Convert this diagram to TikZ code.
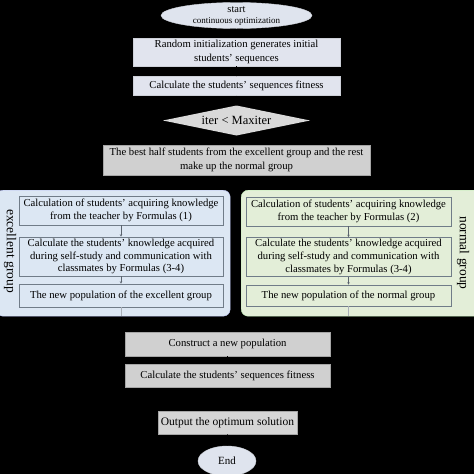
\documentclass[tikz,border=0pt]{standalone}
\usepackage{fontspec}
\setmainfont{Liberation Serif}
\usetikzlibrary{shapes.geometric,arrows.meta}
\definecolor{ellfill}{HTML}{DFE4EE}
\definecolor{bluebox}{HTML}{E1E4EE}
\definecolor{graybox}{HTML}{D0D0D0}
\definecolor{diafill}{HTML}{D9D9D9}
\definecolor{excfill}{HTML}{DCE7F3}
\definecolor{norfill}{HTML}{E3EED8}
\definecolor{innerline}{HTML}{707C88}
\tikzset{
  x=1pt,y=-1pt,
  every node/.style={font=\fontsize{10.7}{12.8}\selectfont, align=center, inner sep=0pt},
  ellbox/.style={ellipse, fill=ellfill, draw=ellfill!80!gray},
  topbox/.style={rectangle, fill=bluebox, draw=bluebox!80!gray},
  grbox/.style={rectangle, fill=graybox, draw=graybox!80!black},
  inbox/.style={rectangle, draw=innerline, line width=0.6pt},
  grouplabel/.style={font=\fontsize{13.5}{15}\selectfont, rotate=-90},
  hidden/.style={draw=black, -{Stealth[length=3pt]}},
  inarrow/.style={draw=innerline!80!black, line width=0.5pt, -{Stealth[length=2.5pt,width=2.5pt]}},
  inline/.style={draw=innerline!60!white, line width=0.6pt}
}
\begin{document}
\begin{tikzpicture}
\useasboundingbox (0,0) rectangle (474,474);
\fill[black] (0,0) rectangle (474,474);
\begin{scope}
\clip (0,0) rectangle (474,474);
% start
\node[ellbox, minimum width=151, minimum height=26] (start) at (236.5,15.5) {};
\node[font=\fontsize{10.5}{11}\selectfont] (starttxt) at (236.5,9.5) {start};
\node[font=\fontsize{9}{10}\selectfont] (conttxt) at (236.5,21.5) {continuous optimization};
% top boxes
\node[topbox, minimum width=207, minimum height=28, font=\fontsize{10.7}{14}\selectfont] (r1) at (236.5,52) {Random initialization generates initial\\students’ sequences};
\node[topbox, minimum width=207, minimum height=19] (r2) at (236.5,86) {Calculate the students’ sequences fitness};
\fill[diafill] (163,120.5) -- (236.5,105.5) -- (310,120.5) -- (236.5,135.5) -- cycle;
\node[font=\fontsize{12.5}{14}\selectfont, minimum width=147, minimum height=30] (dia) at (236.5,120.5) {iter < Maxiter};
\node[grbox, minimum width=267, minimum height=30, font=\fontsize{10.7}{13.5}\selectfont] (b3) at (236.5,160) {The best half students from the excellent group and the rest\\make up the normal group};
% groups
\node[draw=excfill!85!blue, fill=excfill, rounded corners=7, minimum width=234, minimum height=126, anchor=north west] (exc) at (-4,190) {};
\node[draw=norfill!85!green, fill=norfill, rounded corners=7, minimum width=240, minimum height=126, anchor=north west] (nor) at (241,190) {};
\node[grouplabel] (exclab) at (10,251) {excellent group};
\node[grouplabel] (norlab) at (463,253) {normal group};
\node[inbox, minimum width=204, minimum height=29] (e1) at (121,210.5) {Calculation of students’ acquiring knowledge\\from the teacher by Formulas (1)};
\node[inbox, minimum width=204, minimum height=39] (e2) at (121,256.5) {Calculate the students’ knowledge acquired\\during self-study and communication with\\classmates by Formulas (3-4)};
\node[inbox, minimum width=204, minimum height=23] (e3) at (121,295.5) {The new population of the excellent group};
\node[inbox, minimum width=205, minimum height=29] (n1) at (348.5,211.5) {Calculation of students’ acquiring knowledge\\from the teacher by Formulas (2)};
\node[inbox, minimum width=205, minimum height=39] (n2) at (348.5,257) {Calculate the students’ knowledge acquired\\during self-study and communication with\\classmates by Formulas (3-4)};
\node[inbox, minimum width=205, minimum height=21] (n3) at (348.5,295.5) {The new population of the normal group};
\coordinate (eout) at (121,316);
\coordinate (nout) at (348.5,316);
\draw[inarrow] (e1) -- (e2);
\draw[inarrow] (e2) -- (e3);
\draw[inline] (e3) -- (eout);
\draw[inarrow] (n1) -- (n2);
\draw[inarrow] (n2) -- (n3);
\draw[inline] (n3) -- (nout);
% bottom
\node[grbox, minimum width=205, minimum height=24] (c1) at (227.5,344) {Construct a new population};
\node[grbox, minimum width=205, minimum height=23] (c2) at (227.5,375.5) {Calculate the students’ sequences fitness};
\node[grbox, fill=graybox!90!white, minimum width=139, minimum height=23, font=\fontsize{11.5}{13}\selectfont] (out) at (227.5,422.5) {Output the optimum solution};
\node[ellbox, minimum width=58, minimum height=30, font=\fontsize{11}{13}\selectfont] (endn) at (227,461) {End};
% hidden connectors (black on black)
\draw[hidden] (start) -- (r1);
\draw[hidden] (r1) -- (r2);
\draw[hidden] (r2) -- (dia.north);
\draw[hidden] (dia.south) -- (b3);
\draw[hidden] (c1) -- (c2);
\draw[hidden] (out) -- (endn);
\end{scope}
\end{tikzpicture}
\end{document}
